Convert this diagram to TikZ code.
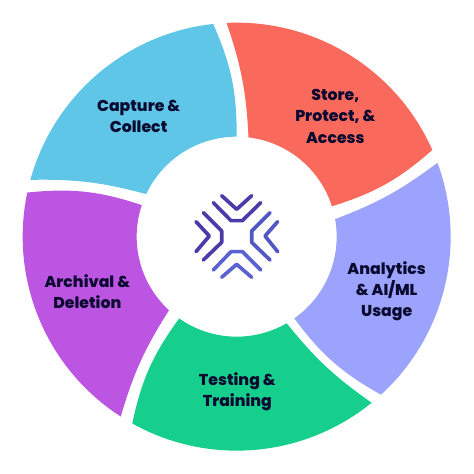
\documentclass[tikz,border=0pt]{standalone}
\usepackage{fontspec}
\setmainfont{Poppins}[BoldFont={Poppins ExtraBold}]
\definecolor{cblue}{HTML}{5FC6E8}
\definecolor{cred}{HTML}{F9695C}
\definecolor{cperi}{HTML}{9BA3FC}
\definecolor{cgreen}{HTML}{17CF8C}
\definecolor{cpurple}{HTML}{BC56E2}
\definecolor{ctext}{HTML}{0A0A30}
\definecolor{logoa}{HTML}{4A3BA8}
\definecolor{logob}{HTML}{5158C4}
\definecolor{logoc}{HTML}{5A62D2}
\newcommand{\ringseg}[7]{%
  \fill[#1] (#2:642) arc[start angle=#2,end angle=#3,radius=642]
    to[bend left=#7] (#4:300) arc[start angle=#4,end angle=#5,radius=300]
    to[bend right=#6] cycle;}
\tikzset{
  seglabel/.style={align=center,text=ctext,inner sep=0pt,font=\fontsize{13.4}{18.15}\selectfont\bfseries},
  logoline/.style={line width=1.1mm,line cap=round,line join=round}
}
\begin{document}
\begin{tikzpicture}[x=0.01cm,y=0.01cm]
\useasboundingbox (-710,-712) rectangle (712,710);
\ringseg{cblue}{164.6}{96.3}{90}{154.8}{8}{12}
\ringseg{cred}{92.7}{23.9}{17.7}{83.2}{8}{12}
\ringseg{cperi}{20.2}{-47.6}{-54.8}{10.1}{8}{12}
\ringseg{cgreen}{-50.9}{-119.2}{-125.1}{-60}{8}{12}
\ringseg{cpurple}{-122.8}{-191.9}{-198.4}{-132.6}{8}{12}
\node[seglabel] (capture) at (-294,361) {Capture \&\\Collect};
\node[seglabel] (store) at (296,361) {Store,\\Protect, \&\\Access};
\node[seglabel] (analytics) at (450,-164) {Analytics\\\& AI/ML\\Usage};
\node[seglabel] (testing) at (2,-465) {Testing \&\\Training};
\node[seglabel] (archival) at (-448,-164) {Archival \&\\Deletion};
\draw[logoline,logoa] (-45,123) -- (0,82) -- (45,123);
\draw[logoline,logoa] (-70,102) -- (-17,48) -- (17,48) -- (72,102);
\draw[logoline,logoa] (-122,45) -- (-82,2) -- (-122,-45);
\draw[logoline,logoa] (-100,72) -- (-45,17) -- (-45,-17) -- (-100,-70);
\draw[logoline,logob] (123,45) -- (85,2) -- (123,-45);
\draw[logoline,logob] (100,72) -- (45,17) -- (45,-17) -- (100,-70);
\draw[logoline,logoc] (-45,-122) -- (0,-83) -- (45,-122);
\draw[logoline,logoc] (-70,-100) -- (-17,-45) -- (17,-45) -- (72,-100);
\end{tikzpicture}
\end{document}
